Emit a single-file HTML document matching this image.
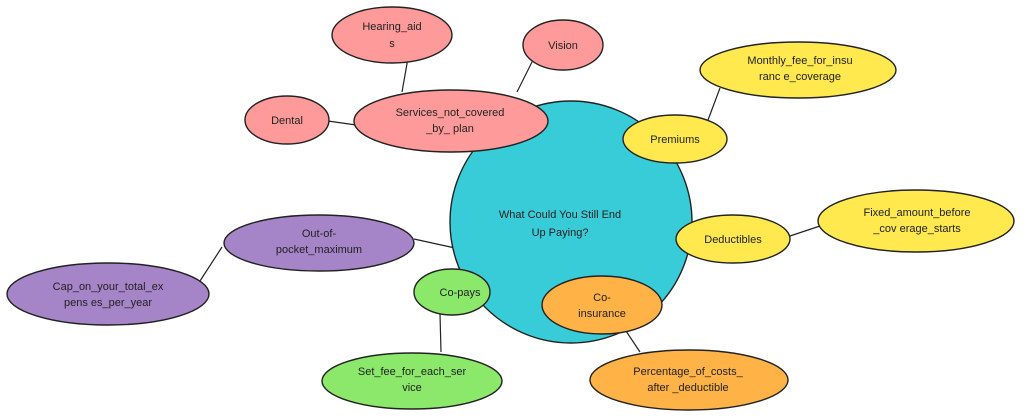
<!DOCTYPE html>
<html><head><meta charset="utf-8"><style>
html,body{margin:0;padding:0;background:#fff;}
svg{display:block;}
text{font-family:"Liberation Sans",sans-serif;font-size:11px;fill:#222;text-anchor:middle;}
</style></head><body>
<svg width="1024" height="419" viewBox="0 0 1024 419">
<g stroke="#222" stroke-width="1.2" fill="none">
<line x1="408" y1="58" x2="402" y2="92"/>
<line x1="533" y1="60" x2="517" y2="92"/>
<line x1="328" y1="121" x2="356" y2="125"/>
<line x1="720" y1="88" x2="708" y2="120"/>
<line x1="790" y1="236" x2="820" y2="226"/>
<line x1="622" y1="325" x2="640" y2="352"/>
<line x1="440" y1="314" x2="441" y2="352"/>
<line x1="222" y1="247" x2="200" y2="281"/>
<line x1="414" y1="239" x2="455" y2="248"/>
</g>
<g stroke="#222" stroke-width="1.4">
<circle cx="571" cy="222" r="121" fill="#38ccd9"/>
<ellipse cx="451" cy="121" rx="97" ry="31" fill="#ff9a9a"/>
<ellipse cx="392" cy="35" rx="60" ry="28" fill="#ff9a9a"/>
<ellipse cx="563" cy="45" rx="40" ry="25" fill="#ff9a9a"/>
<ellipse cx="287" cy="120" rx="42" ry="24" fill="#ff9a9a"/>
<ellipse cx="798" cy="70" rx="98" ry="28" fill="#ffe94f"/>
<ellipse cx="675" cy="139" rx="52" ry="24" fill="#ffe94f"/>
<ellipse cx="733" cy="239" rx="57" ry="24" fill="#ffe94f"/>
<ellipse cx="916" cy="221" rx="98" ry="31" fill="#ffe94f"/>
<ellipse cx="602" cy="305" rx="60" ry="29" fill="#ffb347"/>
<ellipse cx="689" cy="380" rx="99" ry="30" fill="#ffb347"/>
<ellipse cx="452" cy="292" rx="38" ry="23" fill="#8ce86a"/>
<ellipse cx="412" cy="381" rx="90" ry="28" fill="#8ce86a"/>
<ellipse cx="319" cy="243" rx="95" ry="28" fill="#a584c8"/>
<ellipse cx="108" cy="294" rx="101" ry="31" fill="#a584c8"/>
</g>
<text x="560" y="218">What Could You Still End</text>
<text x="560" y="236">Up Paying?</text>
<text x="450" y="116">Services_not_covered</text>
<text x="450" y="132">_by_ plan</text>
<text x="392" y="30">Hearing_aid</text>
<text x="392" y="47">s</text>
<text x="563" y="49">Vision</text>
<text x="287" y="124">Dental</text>
<text x="800" y="64">Monthly_fee_for_insu</text>
<text x="800" y="80">ranc e_coverage</text>
<text x="675" y="143">Premiums</text>
<text x="733" y="243">Deductibles</text>
<text x="917" y="216">Fixed_amount_before</text>
<text x="917" y="232">_cov erage_starts</text>
<text x="602" y="301">Co-</text>
<text x="602" y="317">insurance</text>
<text x="688" y="375">Percentage_of_costs_</text>
<text x="688" y="391">after _deductible</text>
<text x="460" y="296">Co-pays</text>
<text x="412" y="375">Set_fee_for_each_ser</text>
<text x="412" y="391">vice</text>
<text x="319" y="237">Out-of-</text>
<text x="319" y="253">pocket_maximum</text>
<text x="108" y="290">Cap_on_your_total_ex</text>
<text x="108" y="306">pens es_per_year</text>
</svg>
</body></html>
